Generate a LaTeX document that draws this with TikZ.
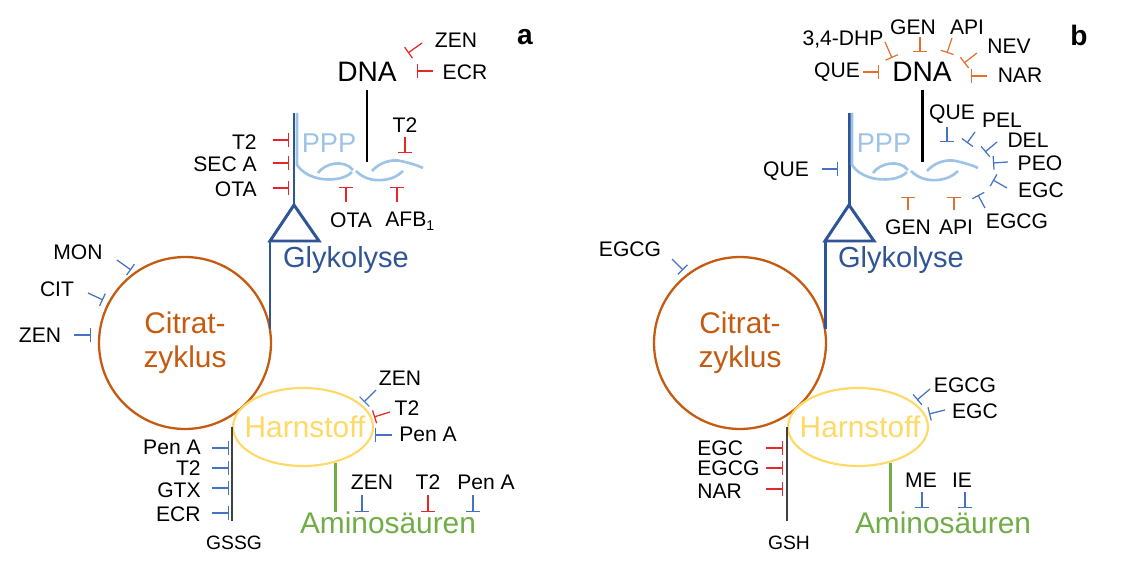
\documentclass[tikz,border=0pt]{standalone}
\usepackage{fontspec}
\setmainfont{Liberation Sans}
\usetikzlibrary{shapes.geometric,arrows.meta}

\definecolor{glyblue}{HTML}{2F5597}
\definecolor{pppblue}{HTML}{9DC3E6}
\definecolor{citorange}{HTML}{C55A11}
\definecolor{ureyellow}{HTML}{FFD966}
\definecolor{amigreen}{HTML}{70AD47}
\definecolor{inhred}{HTML}{E8262A}
\definecolor{inhblue}{HTML}{4472C4}
\definecolor{inhorange}{HTML}{E07030}

\begin{document}
\begin{tikzpicture}[x=0.02cm, y=-0.02cm,
  lbl/.style={font=\fontsize{12}{14}\selectfont, inner sep=0pt},
  gslbl/.style={font=\fontsize{11}{13}\selectfont, inner sep=0pt},
  dnalbl/.style={font=\fontsize{16}{19}\selectfont, inner sep=0pt},
  ppplbl/.style={font=\fontsize{15.5}{18}\selectfont, inner sep=0pt, text=pppblue},
  glylbl/.style={font=\fontsize{16.5}{19}\selectfont, inner sep=0pt, text=glyblue, anchor=base},
  urelbl/.style={font=\fontsize{17}{19.5}\selectfont, inner sep=0pt, text=ureyellow},
  amilbl/.style={font=\fontsize{17}{19.5}\selectfont, inner sep=0pt, text=amigreen},
  panellbl/.style={font=\fontsize{16}{19}\selectfont\bfseries, inner sep=0pt, anchor=base},
  citcircle/.style={circle, draw=citorange, line width=1.3pt, text=citorange, minimum size=3.44cm,
    inner sep=0pt, align=center, font=\fontsize{17}{19.5}\selectfont},
  ureellipse/.style={ellipse, draw=ureyellow, line width=1.2pt, minimum width=2.8cm, minimum height=1.56cm, inner sep=0pt},
  glyc/.style={draw=glyblue, line width=1.7pt},
  ppp/.style={draw=pppblue, line width=1.5pt},
  dnaline/.style={draw=black, line width=1.7pt},
  gsline/.style={draw=black!75, line width=0.9pt},
  amiline/.style={draw=amigreen, line width=1.7pt},
  inh/.style={line width=0.7pt, -{Bar[width=0.27cm]}},
  inhr/.style={inh, draw=inhred},
  inhb/.style={inh, draw=inhblue},
  inho/.style={inh, draw=inhorange},
]
\useasboundingbox (0,0) rectangle (1140,567);

% ---------- panel a: pathways ----------
\node[dnalbl] (dnaA) at (367,72) {DNA};
\node[ppplbl] (pppA) at (329,143) {PPP};
\node[glylbl] (glyA) at (346,268) {Glykolyse};
\node[citcircle] (citA) at (185,343) {Citrat-\\zyklus};
\node[ureellipse] (ureA) at (303,427) {};
\node[urelbl] (harnA) at (305,427) {Harnstoff};
\node[amilbl] (amiA) at (388,523) {Aminosäuren};
\node[gslbl] (gssg) at (234,543) {GSSG};
\node[panellbl] (pa) at (525,45) {a};

\draw[dnaline, shorten <=0.16cm] (dnaA.south) -- ++(0,80);
\coordinate (topA) at (294,113);
\coordinate (apexA) at (294,205);
\coordinate (baseA) at (270,241);
\draw[glyc] (topA) -- (apexA);
\draw[glyc] (apexA) -- (baseA) -- (319,241) -- cycle;
\draw[glyc] (baseA) -- (baseA |- citA.9);
% PPP ribbon
\draw[ppp] (297,113) -- (297,165) .. controls (305,177) and (322,181) .. (336,179) .. controls (344,178) and (349,175) .. (352,172);
\draw[ppp] (318,173) .. controls (325,163) and (344,159) .. (353,170);
\draw[ppp] (356,171) .. controls (363,178) and (372,181) .. (383,180) .. controls (392,179) and (398,176) .. (403,171);
\draw[ppp] (372,171) .. controls (380,162) and (392,159) .. (401,161) .. controls (409,163) and (417,165) .. (423,168);
\draw[gsline, shorten >=0.3cm] (ureA.west) -- (ureA.west |- gssg.north);
\draw[amiline] (ureA.-48) -- (ureA.-48 |- amiA.north);

% ---------- panel a: labels ----------
\node[lbl] (lzenD) at (456,40) {ZEN};
\node[lbl] (lecrD) at (465,72) {ECR};
\node[lbl, anchor=east] (lt2G) at (257,142) {T2};
\node[lbl, anchor=east] (lsecG) at (257,164) {SEC A};
\node[lbl, anchor=east] (lotaG) at (257,189) {OTA};
\node[lbl] (lt2P) at (405,125) {T2};
\node[lbl] (lotaP) at (351,220) {OTA};
\node[lbl, anchor=base west] (lafbP) at (385,227) {AFB\textsubscript{1}};
\node[lbl] (lmonC) at (78,252) {MON};
\node[lbl] (lcitC) at (57,289) {CIT};
\node[lbl] (lzenC) at (40,335) {ZEN};
\node[lbl, anchor=east] (lpenS) at (201,447) {Pen A};
\node[lbl, anchor=east] (lt2S) at (201,468) {T2};
\node[lbl, anchor=east] (lgtxS) at (201,490) {GTX};
\node[lbl, anchor=east] (lecrS) at (201,514) {ECR};
\node[lbl] (lzenH) at (400,378) {ZEN};
\node[lbl] (lt2H) at (407,408) {T2};
\node[lbl] (lpenH) at (428,434) {Pen A};
\node[lbl] (lzenM) at (372,482) {ZEN};
\node[lbl] (lt2M) at (428,482) {T2};
\node[lbl] (lpenM) at (486,482) {Pen A};

% inhibitors (a), red
\path (422,43) coordinate (zenD-s) (408,53) coordinate (zenD-e)
      (433,71) coordinate (ecrD-s) (417,71) coordinate (ecrD-e)
      (273,140) coordinate (t2G-s) (289,140) coordinate (t2G-e)
      (273,163) coordinate (secG-s) (289,163) coordinate (secG-e)
      (273,188) coordinate (otaG-s) (289,188) coordinate (otaG-e)
      (405,137) coordinate (t2P-s) (405,153) coordinate (t2P-e)
      (346,202) coordinate (otaP-s) (346,187) coordinate (otaP-e)
      (397,202) coordinate (afbP-s) (397,187) coordinate (afbP-e)
      (390,412) coordinate (t2H-s) (374,417) coordinate (t2H-e)
      (428,495) coordinate (t2M-s) (428,512) coordinate (t2M-e);
\foreach \i in {zenD,ecrD,t2G,secG,otaG,t2P,otaP,afbP,t2H,t2M}
  \draw[inhr] (\i-s) -- (\i-e);
% inhibitors (a), blue
\path (117,260) coordinate (monC-s) (131,270) coordinate (monC-e)
      (88,293) coordinate (citC-s) (103,300) coordinate (citC-e)
      (74,335) coordinate (zenC-s) (91,335) coordinate (zenC-e)
      (212,448) coordinate (penS-s) (229,448) coordinate (penS-e)
      (212,468) coordinate (t2S-s) (229,468) coordinate (t2S-e)
      (212,488) coordinate (gtxS-s) (229,488) coordinate (gtxS-e)
      (212,513) coordinate (ecrS-s) (229,513) coordinate (ecrS-e)
      (376,390) coordinate (zenH-s) (364,402) coordinate (zenH-e)
      (392,435) coordinate (penH-s) (375,435) coordinate (penH-e)
      (362,495) coordinate (zenM-s) (362,512) coordinate (zenM-e)
      (473,495) coordinate (penM-s) (473,512) coordinate (penM-e);
\foreach \i in {monC,citC,zenC,penS,t2S,gtxS,ecrS,zenH,penH,zenM,penM}
  \draw[inhb] (\i-s) -- (\i-e);

% ---------- panel b: pathways ----------
\begin{scope}[shift={(555,0)}]
\node[dnalbl] (dnaB) at (367,72) {DNA};
\node[ppplbl] (pppB) at (329,143) {PPP};
\node[glylbl] (glyB) at (346,268) {Glykolyse};
\node[citcircle] (citB) at (185,343) {Citrat-\\zyklus};
\node[ureellipse] (ureB) at (303,427) {};
\node[urelbl] (harnB) at (305,427) {Harnstoff};
\node[amilbl] (amiB) at (388,523) {Aminosäuren};
\node[gslbl] (gsh) at (234,543) {GSH};

\draw[dnaline, shorten <=0.16cm] (dnaB.south) -- ++(0,80);
\coordinate (topB) at (294,113);
\coordinate (apexB) at (294,205);
\coordinate (baseB) at (270,241);
\draw[glyc] (topB) -- (apexB);
\draw[glyc] (apexB) -- (baseB) -- (319,241) -- cycle;
\draw[glyc] (baseB) -- (baseB |- citB.9);
% PPP ribbon
\draw[ppp] (297,113) -- (297,165) .. controls (305,177) and (322,181) .. (336,179) .. controls (344,178) and (349,175) .. (352,172);
\draw[ppp] (318,173) .. controls (325,163) and (344,159) .. (353,170);
\draw[ppp] (356,171) .. controls (363,178) and (372,181) .. (383,180) .. controls (392,179) and (398,176) .. (403,171);
\draw[ppp] (372,171) .. controls (380,162) and (392,159) .. (401,161) .. controls (409,163) and (417,165) .. (423,168);
\draw[gsline, shorten >=0.3cm] (ureB.west) -- (ureB.west |- gsh.north);
\draw[amiline] (ureB.-48) -- (ureB.-48 |- amiB.north);
\end{scope}
\node[panellbl] (pb) at (1079,46) {b};

% ---------- panel b: labels ----------
\node[lbl] (ldhpDB) at (843,39) {3,4-DHP};
\node[lbl] (lgenDB) at (913,27) {GEN};
\node[lbl] (lapiDB) at (967,27) {API};
\node[lbl] (lnevDB) at (1009,46) {NEV};
\node[lbl] (lnarDB) at (1020,75) {NAR};
\node[lbl] (lqueDB) at (837,72) {QUE};
\node[lbl] (lquePB) at (952,114) {QUE};
\node[lbl] (lpelPB) at (1002,120) {PEL};
\node[lbl] (ldelPB) at (1028,140) {DEL};
\node[lbl] (lpeoPB) at (1040,163) {PEO};
\node[lbl] (legcPB) at (1041,190) {EGC};
\node[lbl] (legcgPB) at (1017,221) {EGCG};
\node[lbl] (lgenPB) at (908,227) {GEN};
\node[lbl] (lapiPB) at (956,227) {API};
\node[lbl] (lqueGB) at (786,171) {QUE};
\node[lbl] (legcgCB) at (630,249) {EGCG};
\node[lbl] (legcgHB) at (965,385) {EGCG};
\node[lbl] (legcHB) at (975,411) {EGC};
\node[lbl, anchor=west] (legcSB) at (697,448) {EGC};
\node[lbl, anchor=west] (legcgSB) at (697,468) {EGCG};
\node[lbl, anchor=west] (lnarSB) at (697,491) {NAR};
\node[lbl] (lmeMB) at (921,480) {ME};
\node[lbl] (lieMB) at (962,480) {IE};

% inhibitors (b), orange
\path (863,72) coordinate (queDB-s) (879,72) coordinate (queDB-e)
      (885,42) coordinate (dhpDB-s) (892,58) coordinate (dhpDB-e)
      (920,37) coordinate (genDB-s) (920,52) coordinate (genDB-e)
      (952,38) coordinate (apiDB-s) (947,53) coordinate (apiDB-e)
      (977,53) coordinate (nevDB-s) (964,63) coordinate (nevDB-e)
      (987,76) coordinate (narDB-s) (971,76) coordinate (narDB-e)
      (908,210) coordinate (genPB-s) (908,197) coordinate (genPB-e)
      (954,210) coordinate (apiPB-s) (954,197) coordinate (apiPB-e);
\foreach \i in {queDB,dhpDB,genDB,apiDB,nevDB,narDB,genPB,apiPB}
  \draw[inho] (\i-s) -- (\i-e);
% inhibitors (b), blue
\path (947,127) coordinate (quePB-s) (947,142) coordinate (quePB-e)
      (975,132) coordinate (pelPB-s) (967,143) coordinate (pelPB-e)
      (997,142) coordinate (delPB-s) (985,152) coordinate (delPB-e)
      (1008,162) coordinate (peoPB-s) (993,163) coordinate (peoPB-e)
      (1007,188) coordinate (egcPB-s) (993,180) coordinate (egcPB-e)
      (985,208) coordinate (egcgPB-s) (978,195) coordinate (egcgPB-e)
      (822,169) coordinate (queGB-s) (838,169) coordinate (queGB-e)
      (672,259) coordinate (egcgCB-s) (683,270) coordinate (egcgCB-e)
      (930,389) coordinate (egcgHB-s) (917,400) coordinate (egcgHB-e)
      (945,410) coordinate (egcHB-s) (929,414) coordinate (egcHB-e)
      (922,492) coordinate (meMB-s) (922,508) coordinate (meMB-e)
      (965,492) coordinate (ieMB-s) (965,508) coordinate (ieMB-e);
\foreach \i in {quePB,pelPB,delPB,peoPB,egcPB,egcgPB,queGB,egcgCB,egcgHB,egcHB,meMB,ieMB}
  \draw[inhb] (\i-s) -- (\i-e);
% inhibitors (b), red
\path (766,448) coordinate (egcSB-s) (783,448) coordinate (egcSB-e)
      (766,468) coordinate (egcgSB-s) (783,468) coordinate (egcgSB-e)
      (766,489) coordinate (narSB-s) (783,489) coordinate (narSB-e);
\foreach \i in {egcSB,egcgSB,narSB}
  \draw[inhr] (\i-s) -- (\i-e);

\end{tikzpicture}
\end{document}
